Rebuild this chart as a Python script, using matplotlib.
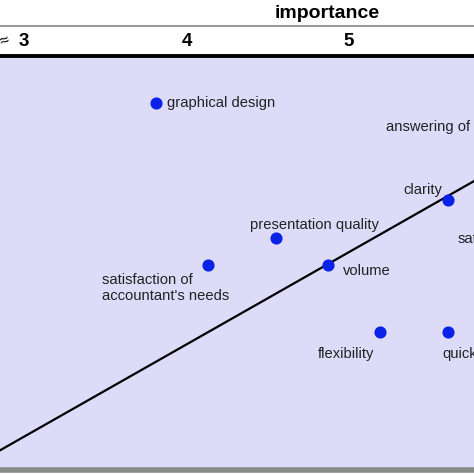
import numpy as np
import matplotlib
matplotlib.use('Agg')
from matplotlib import pyplot as plt
from matplotlib.lines import Line2D

plt.rcParams['font.family'] = ['Liberation Sans', 'DejaVu Sans']

# importance (x) vs. performance (y)
labels = ['graphical design', 'clarity', 'presentation quality',
          "satisfaction of\naccountant's needs", 'volume', 'flexibility',
          'quickness', 'answering of questions']
importance = [3.81, 5.61, 4.55, 4.13, 4.87, 5.19, 5.61, 6.21]
performance = [4.71, 4.11, 3.88, 3.71, 3.71, 3.30, 3.30, 4.56]

# regression line end points
line_x = [2.85, 5.77]
line_y = [2.57, 4.23]

# label that is cut off at the right edge (its point is outside the view)
extra_label = 'satisfaction'
extra_xy = (5.665, 3.875)

xticks = [3, 4, 5]

# label placement: offset in points, ha, va
layout = [((8, 0), 'left', 'center'),
          ((-4, 7.5), 'right', 'center'),
          ((-19, 9.5), 'left', 'center'),
          ((-76, -5.5), 'left', 'top'),
          ((11, -4), 'left', 'center'),
          ((-4, -16), 'right', 'center'),
          ((-4, -16), 'left', 'center'),
          ((-6, 0), 'right', 'center')]

fig = plt.figure(figsize=(4.74, 4.74), dpi=100)
ax = fig.add_axes([0, 4 / 474, 1, (470 - 56) / 474])
ax.set_facecolor('#dddbf7')

ax.plot(line_x, line_y, color='black', lw=1.6, zorder=2)
ax.scatter(importance, performance, s=60, color='#0a22e8', zorder=3)

for (txt, x, y), (off, ha, va) in zip(zip(labels, importance, performance), layout):
    ax.annotate(txt, (x, y), xytext=off, textcoords='offset points',
                ha=ha, va=va, fontsize=10.6, color='#222222',
                annotation_clip=False, linespacing=1.15)
ax.text(extra_xy[0], extra_xy[1], extra_label, ha='left', va='center',
        fontsize=10.6, color='#222222', clip_on=False)

ax.set_xlim(2.852, 5.769)
ax.set_ylim(2.45, 5.0)
ax.xaxis.tick_top()
ax.set_xticks(xticks)
ax.set_xticklabels([str(t) for t in xticks], fontsize=13.5, fontweight='bold')
ax.tick_params(axis='x', length=0, pad=4)
ax.set_yticks([])
for side in ['left', 'right']:
    ax.spines[side].set_visible(False)
ax.spines['top'].set_linewidth(2.8)
ax.spines['top'].set_color('black')
ax.spines['bottom'].set_linewidth(4)
ax.spines['bottom'].set_color('#8a8a8a')

fig.text(327 / 474, 1 - 14 / 474, 'importance', ha='center', va='center',
         fontsize=14, fontweight='bold')
fig.add_artist(Line2D([0, 1], [1 - 26 / 474] * 2, color='#888888', lw=1.2))
fig.text(4 / 474, 1 - 41 / 474, '\u2248', ha='center', va='center',
         fontsize=12, rotation=20)

fig.savefig('out.png', dpi=100)
